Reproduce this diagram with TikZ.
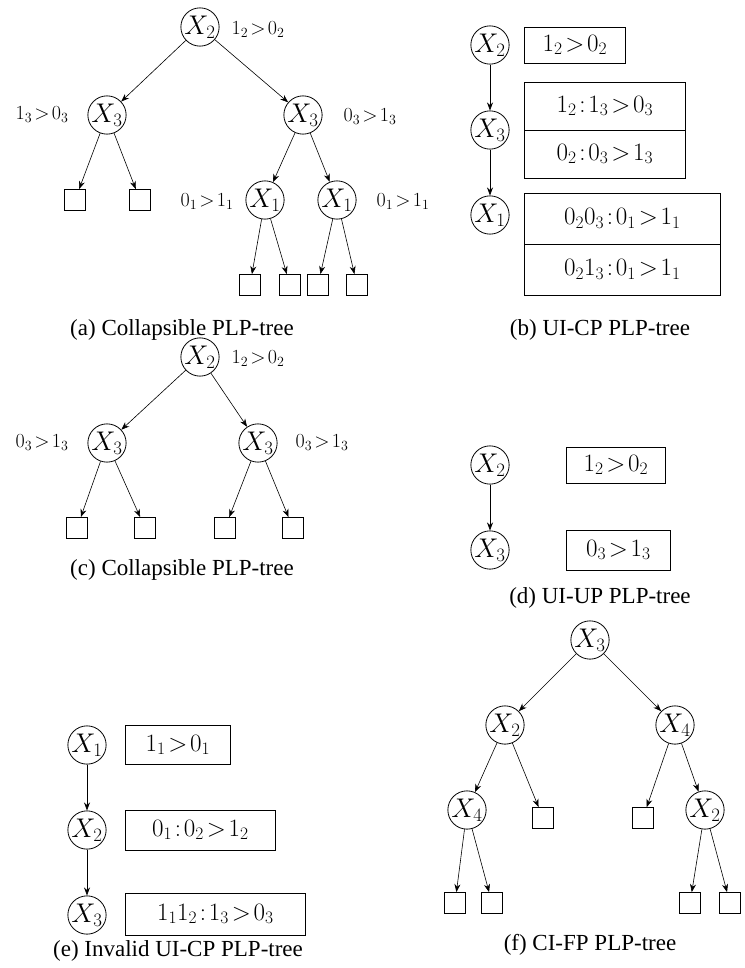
\RequirePackage{fix-cm}
\documentclass[tikz,border=0pt]{standalone}
\usepackage{fontspec}
\setmainfont{Liberation Serif}
\usetikzlibrary{arrows.meta}
\begin{document}
\begin{tikzpicture}[x=1pt,y=-1pt,
 v/.style={draw,circle,minimum size=38pt,inner sep=0pt,font=\fontsize{27}{27}\selectfont},
 lf/.style={draw,minimum size=21pt,inner sep=0pt},
 lab/.style={font=\fontsize{20}{20}\selectfont,inner sep=0pt},
 bx/.style={draw,inner sep=0pt,font=\fontsize{25}{25}\selectfont,anchor=west},
 captxt/.style={font=\fontsize{23}{23}\selectfont},
 e/.style={-{Stealth[length=8pt,width=6pt]},semithick},
 every node/.append style={thick}]
\useasboundingbox (0,0) rectangle (744,968);
% (a)
\node[v] (a1) at (200,27) {$X_2$};
\node[lab] (la1) at (258,30) {$1_2\!>\!0_2$};
\node[v] (a2) at (107,115) {$X_3$};
\node[lab] (la2) at (42,115) {$1_3\!>\!0_3$};
\node[v] (a3) at (303,115) {$X_3$};
\node[lab] (la3) at (370,117) {$0_3\!>\!1_3$};
\node[lf] (a4) at (75,200) {};
\node[lf] (a5) at (140,200) {};
\node[v] (a6) at (265,200) {$X_1$};
\node[lab] (la6) at (207,202) {$0_1\!>\!1_1$};
\node[v] (a7) at (337,200) {$X_1$};
\node[lab] (la7) at (403,202) {$0_1\!>\!1_1$};
\node[lf] (a8) at (250,285) {};
\node[lf] (a9) at (290,285) {};
\node[lf] (a10) at (318,285) {};
\node[lf] (a11) at (357,285) {};
\draw[e] (a1)--(a2); \draw[e] (a1)--(a3);
\draw[e] (a2)--(a4); \draw[e] (a2)--(a5);
\draw[e] (a3)--(a6); \draw[e] (a3)--(a7);
\draw[e] (a6)--(a8); \draw[e] (a6)--(a9);
\draw[e] (a7)--(a10); \draw[e] (a7)--(a11);
\node[captxt] (ca) at (182,330) {(a) Collapsible PLP-tree};
% (b)
\node[v] (b1) at (490,45) {$X_2$};
\node[v] (b2) at (490,130) {$X_3$};
\node[v] (b3) at (490,215) {$X_1$};
\draw[e] (b1)--(b2); \draw[e] (b2)--(b3);
\node[bx,minimum width=101pt,minimum height=36pt] (bb1) at (524,45) {$1_2\!>\!0_2$};
\node[bx,minimum width=161pt,minimum height=48pt] (bb2) at (524,106) {$1_2\!:\!1_3\!>\!0_3$};
\node[bx,minimum width=161pt,minimum height=48pt] (bb3) at (524,154) {$0_2\!:\!0_3\!>\!1_3$};
\node[bx,minimum width=196pt,minimum height=51pt] (bb4) at (524,218.5) {$0_20_3\!:\!0_1\!>\!1_1$};
\node[bx,minimum width=196pt,minimum height=51pt] (bb5) at (524,269.5) {$0_21_3\!:\!0_1\!>\!1_1$};
\node[captxt] (cb) at (600,330) {(b) UI-CP PLP-tree};
% (c)
\node[v] (c1) at (200,357) {$X_2$};
\node[lab] (lc1) at (258,359) {$1_2\!>\!0_2$};
\node[v] (c2) at (107,443) {$X_3$};
\node[lab] (lc2) at (42,443) {$0_3\!>\!1_3$};
\node[v] (c3) at (258,443) {$X_3$};
\node[lab] (lc3) at (322,443) {$0_3\!>\!1_3$};
\node[lf] (c4) at (77,528) {};
\node[lf] (c5) at (145,528) {};
\node[lf] (c6) at (225,528) {};
\node[lf] (c7) at (293,528) {};
\draw[e] (c1)--(c2); \draw[e] (c1)--(c3);
\draw[e] (c2)--(c4); \draw[e] (c2)--(c5);
\draw[e] (c3)--(c6); \draw[e] (c3)--(c7);
\node[captxt] (cc) at (182,570) {(c) Collapsible PLP-tree};
% (d)
\node[v] (d1) at (490,465) {$X_2$};
\node[v] (d2) at (490,550) {$X_3$};
\draw[e] (d1)--(d2);
\node[bx,minimum width=99pt,minimum height=36pt] (db1) at (566,465) {$1_2\!>\!0_2$};
\node[bx,minimum width=104pt,minimum height=40pt] (db2) at (566,550) {$0_3\!>\!1_3$};
\node[captxt] (cd) at (600,598) {(d) UI-UP PLP-tree};
% (e)
\node[v] (e1) at (87,745) {$X_1$};
\node[v] (e2) at (87,830) {$X_2$};
\node[v] (e3) at (87,915) {$X_3$};
\draw[e] (e1)--(e2); \draw[e] (e2)--(e3);
\node[bx,minimum width=105pt,minimum height=39pt] (eb1) at (125,745) {$1_1\!>\!0_1$};
\node[bx,minimum width=150pt,minimum height=40pt] (eb2) at (125,830) {$0_1\!:\!0_2\!>\!1_2$};
\node[bx,minimum width=180pt,minimum height=42pt] (eb3) at (125,914) {$1_11_2\!:\!1_3\!>\!0_3$};
\node[captxt,fill=white,inner sep=1pt] (ce) at (178,951) {(e) Invalid UI-CP PLP-tree};
% (f)
\node[v] (f1) at (590,640) {$X_3$};
\node[v] (f2) at (505,725) {$X_2$};
\node[v] (f3) at (675,725) {$X_4$};
\node[v] (f4) at (467,810) {$X_4$};
\node[lf] (f5) at (543,818) {};
\node[lf] (f6) at (643,818) {};
\node[v] (f7) at (705,810) {$X_2$};
\node[lf] (f8) at (455,903) {};
\node[lf] (f9) at (492,903) {};
\node[lf] (f10) at (690,903) {};
\node[lf] (f11) at (730,903) {};
\draw[e] (f1)--(f2); \draw[e] (f1)--(f3);
\draw[e] (f2)--(f4); \draw[e] (f2)--(f5);
\draw[e] (f3)--(f6); \draw[e] (f3)--(f7);
\draw[e] (f4)--(f8); \draw[e] (f4)--(f9);
\draw[e] (f7)--(f10); \draw[e] (f7)--(f11);
\node[captxt] (cf) at (590,945) {(f) CI-FP PLP-tree};
\end{tikzpicture}
\end{document}
